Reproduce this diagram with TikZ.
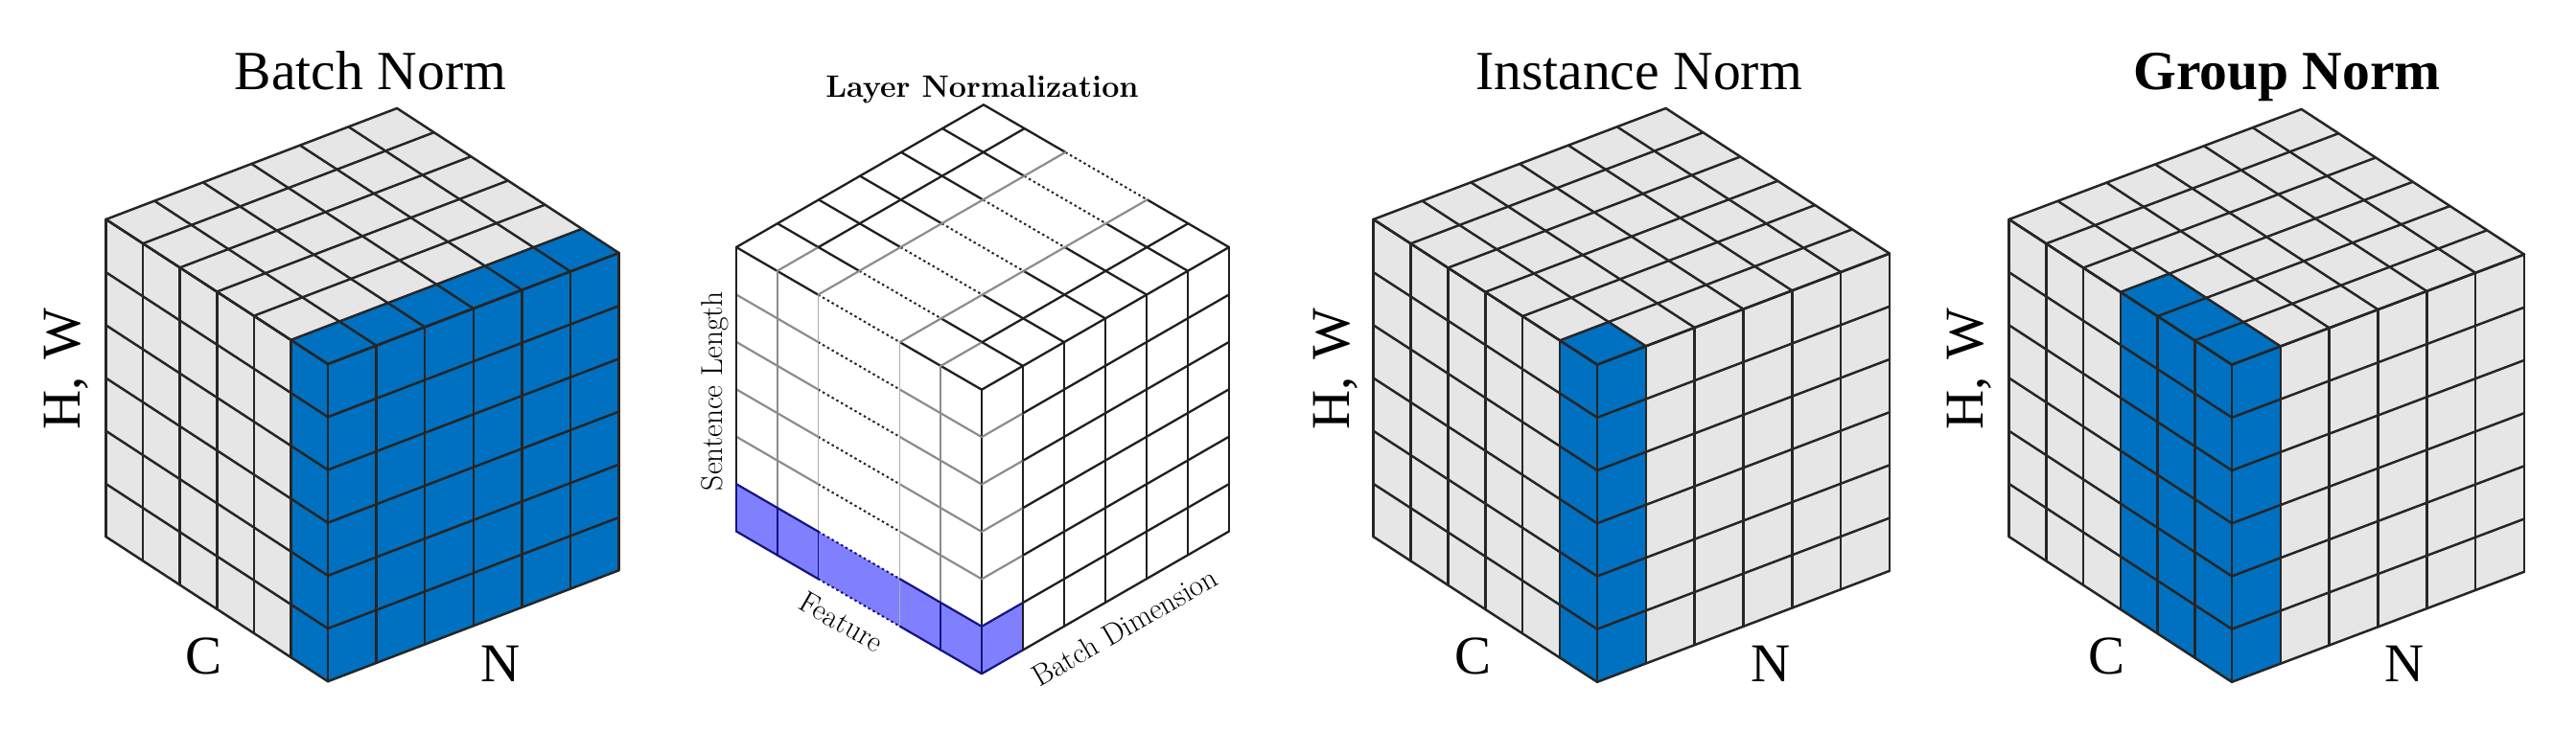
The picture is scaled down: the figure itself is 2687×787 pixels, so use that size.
\documentclass[tikz,border=0pt]{standalone}
\usepackage{fontspec}
\usepackage{tikz}
\newfontfamily\timesfont{Liberation Serif}
\definecolor{cubegray}{RGB}{230,230,230}
\definecolor{cubeblue}{RGB}{0,112,192}
\definecolor{layerblue}{RGB}{128,128,255}
\definecolor{layernavy}{RGB}{20,20,130}
\tikzset{cubeLine/.style={draw=black!85,line width=2.5pt,line cap=round,line join=round}}
\tikzset{solidLine/.style={draw=black!88,line width=2.3pt,line cap=round},
  grayLine/.style={draw=black!45,line width=2.2pt,line cap=round},
  paleLine/.style={draw=black!32,line width=1.6pt},
  dotLine/.style={draw=black!85,line width=2pt,dash pattern=on 2.5pt off 3pt},
  navyLine/.style={draw=layernavy,line width=2.2pt,line cap=round},
  navyDot/.style={draw=layernavy,line width=2pt,dash pattern=on 2.5pt off 3pt},
  normTitle/.style={anchor=base,font=\timesfont\fontsize{57.6}{60}\selectfont},
  axisLabel/.style={anchor=base,font=\timesfont\fontsize{57}{59}\selectfont},
  layerLabel/.style={font=\fontsize{31.5}{33}\selectfont}
}
\newcommand{\normcube}[5]{%
  \begin{scope}[shift={(#1)},x={(#2)},y={(#3)},z={(0pt,-55.2pt)}]
    \fill[cubegray] (0,0,0) -- (6,0,0) -- (6,6,0) -- (0,6,0) -- cycle;
    \fill[cubegray] (0,0,0) -- (6,0,0) -- (6,0,6) -- (0,0,6) -- cycle;
    \fill[cubegray] (0,0,0) -- (0,6,0) -- (0,6,6) -- (0,0,6) -- cycle;
    \fill[cubeblue] (0,0,0) -- (#4,0,0) -- (#4,#5,0) -- (0,#5,0) -- cycle;
    \fill[cubeblue] (0,0,0) -- (#4,0,0) -- (#4,0,6) -- (0,0,6) -- cycle;
    \fill[cubeblue] (0,0,0) -- (0,#5,0) -- (0,#5,6) -- (0,0,6) -- cycle;
    \foreach \t in {0,...,6} {
      \draw[cubeLine] (\t,0,0) -- (\t,6,0);
      \draw[cubeLine] (0,\t,0) -- (6,\t,0);
      \draw[cubeLine] (\t,0,0) -- (\t,0,6);
      \draw[cubeLine] (0,0,\t) -- (6,0,\t);
      \draw[cubeLine] (0,\t,0) -- (0,\t,6);
      \draw[cubeLine] (0,0,\t) -- (0,6,\t);
    }
  \end{scope}
}
\begin{document}
\begin{tikzpicture}[x=1pt,y=-1pt]
	\useasboundingbox (0,0) rectangle (2687,787);
	\normcube{342,380}{-38.58pt,25.17pt}{50.6pt,19.33pt}{1}{6}
	\normcube{1666,380.6}{-38.9pt,25.27pt}{50.83pt,19.33pt}{1}{1}
	\normcube{2328,380.6}{-38.73pt,25.27pt}{50.83pt,19.17pt}{3}{1}

	\begin{scope}[shift={(1024,406.7)},x={(-42.67pt,24.78pt)},y={(43pt,24.78pt)},z={(0pt,-49.42pt)}]
		\fill[layerblue] (0,0,5) -- (6,0,5) -- (6,0,6) -- (0,0,6) -- cycle;
		\fill[layerblue] (0,0,5) -- (0,1,5) -- (0,1,6) -- (0,0,6) -- cycle;
		% top face
		\foreach \v in {0,...,6} {
			\draw[solidLine] (6,\v,0) -- (4,\v,0);
			\draw[dotLine] (4,\v,0) -- (2,\v,0);
			\draw[solidLine] (2,\v,0) -- (0,\v,0);
		}
		\foreach \u in {4,2} \draw[grayLine] (\u,0,0) -- (\u,6,0);
		\foreach \u in {5,1} {
			\draw[grayLine] (\u,0,0) -- (\u,1,0);
			\draw[solidLine] (\u,1,0) -- (\u,6,0);
		}
		\draw[solidLine] (6,0,0) -- (6,6,0);
		\draw[solidLine] (0,0,0) -- (0,6,0);
		% left face
		\foreach \w in {1,...,4} {
			\draw[grayLine] (6,0,\w) -- (4,0,\w);
			\draw[dotLine] (4,0,\w) -- (2,0,\w);
			\draw[grayLine] (2,0,\w) -- (0,0,\w);
		}
		\foreach \u in {5,1} {
			\draw[grayLine] (\u,0,0) -- (\u,0,5);
			\draw[navyLine] (\u,0,5) -- (\u,0,6);
		}
		\draw[paleLine] (4,0,0) -- (4,0,5);
		\draw[navyLine,line width=1.6pt] (4,0,5) -- (4,0,6);
		\draw[paleLine] (2,0,0) -- (2,0,6);
		\draw[solidLine] (6,0,0) -- (6,0,5);
		\draw[navyLine] (6,0,5) -- (6,0,6);
		\draw[solidLine] (0,0,0) -- (0,0,5);
		\draw[navyLine] (0,0,5) -- (0,0,6);
		\foreach \w in {5,6} {
			\draw[navyLine] (6,0,\w) -- (4,0,\w);
			\draw[navyDot] (4,0,\w) -- (2,0,\w);
			\draw[navyLine] (2,0,\w) -- (0,0,\w);
		}
		% right face
		\foreach \v in {1,...,6} \draw[solidLine] (0,\v,0) -- (0,\v,6);
		\foreach \w in {1,...,4} {
			\draw[grayLine] (0,0,\w) -- (0,1,\w);
			\draw[solidLine] (0,1,\w) -- (0,6,\w);
		}
		\draw[navyLine] (0,0,5) -- (0,1,5);
		\draw[solidLine] (0,1,5) -- (0,6,5);
		\draw[navyLine] (0,0,6) -- (0,1,6);
		\draw[solidLine] (0,1,6) -- (0,6,6);
	\end{scope}

	\node[normTitle] (batchTitle) at (386.5,93) {Batch Norm};
	\node[normTitle] (instanceTitle) at (1709.5,93) {Instance Norm};
	\node[normTitle,font=\timesfont\bfseries\fontsize{57.6}{60}\selectfont] (groupTitle) at (2385.5,93) {Group Norm};
	\node[anchor=base,font=\bfseries\fontsize{32.3}{34}\selectfont] (layerTitle) at (1024.5,101) {Layer Normalization};

	\node[axisLabel,rotate=90] (batchHW) at (83,385) {H,\hspace{4pt} W};
	\node[axisLabel] (batchC) at (213,703) {C};
	\node[axisLabel] (batchN) at (522,711) {N};
	\node[axisLabel,rotate=90] (instanceHW) at (1407,385) {H,\hspace{4pt} W};
	\node[axisLabel] (instanceC) at (1536,703) {C};
	\node[axisLabel] (instanceN) at (1847,711) {N};
	\node[axisLabel,rotate=90] (groupHW) at (2068,385) {H,\hspace{4pt} W};
	\node[axisLabel] (groupC) at (2197.5,703) {C};
	\node[axisLabel] (groupN) at (2508,711) {N};

	\node[layerLabel,anchor=base,rotate=90] (layerLength) at (753,408) {Sentence Length};
	\node[layerLabel,rotate=-30] (layerFeature) at (878,649) {Feature};
	\node[layerLabel,rotate=30] (layerBatch) at (1173,654) {Batch Dimension};
\end{tikzpicture}
\end{document}
